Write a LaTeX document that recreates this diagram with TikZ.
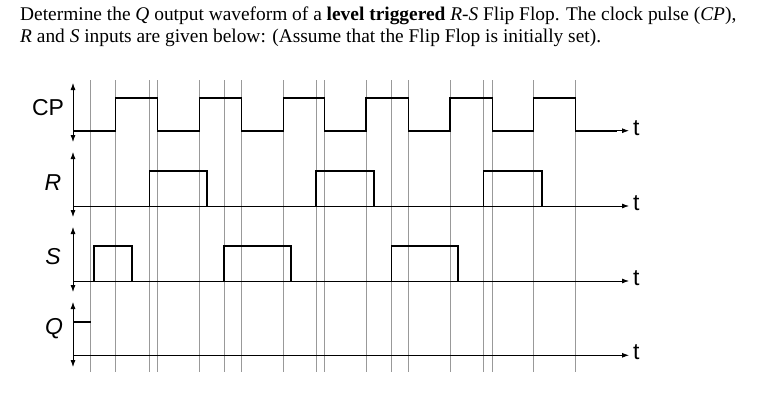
\documentclass[tikz,border=0pt]{standalone}
\usepackage{fontspec}
\setmainfont{Liberation Serif}
\newfontfamily\arial{Liberation Sans}
\usetikzlibrary{arrows.meta}
\begin{document}
\begin{tikzpicture}[x=1pt,y=-1pt,
  wave/.style={line width=1.6pt,line join=miter},
  axis/.style={line width=0.8pt,{Latex[length=7pt,width=5pt]}-{Latex[length=7pt,width=5pt]}},
  taxis/.style={line width=0.8pt,-{Latex[length=7pt,width=5pt]}},
  grid/.style={gray!80,line width=0.5pt},
  lab/.style={font=\arial\fontsize{23}{25}\selectfont,anchor=center}]
\useasboundingbox (0,0) rectangle (762,407);
\node[anchor=north west,align=left,inner sep=0pt,font=\fontsize{19.4}{22}\selectfont] (hdr) at (20,7)
 {Determine the \textit{Q} output waveform of a \textbf{level triggered} \textit{R-S} Flip Flop. The clock pulse (\textit{CP}),\\
 \textit{R} and \textit{S} inputs are given below: (Assume that the Flip Flop is initially set).};
\foreach \x in {90.7,115.3,149.3,157.3,199.3,224.7,241.3,283.3,316.7,324.3,366,391.3,408.3,450,483.3,492.3,533.3,575.3}
  \draw[grid] (\x,80) -- (\x,372);
% axes
\draw[axis] (73,83) -- (73,142);
\draw[axis] (73,152) -- (73,217);
\draw[axis] (73,227) -- (73,292);
\draw[axis] (73,302) -- (73,367);
\coordinate (c0) at (73,130.7); \coordinate (c1) at (629,130.7);
\coordinate (r0) at (73,206); \coordinate (r1) at (629,206);
\coordinate (s0) at (73,281); \coordinate (s1) at (629,281);
\coordinate (q0) at (73,355.3); \coordinate (q1) at (629,355.3);
\draw[taxis] (r0) -- (r1);
\draw[taxis] (s0) -- (s1);
\draw[taxis] (q0) -- (q1);
\draw[taxis] (617,130.7) -- (c1);
% CP
\draw[wave] (73,130.7) -- (115.3,130.7) -- (115.3,97.7) -- (157.3,97.7) -- (157.3,130.7)
 -- (199.3,130.7) -- (199.3,97.7) -- (241.3,97.7) -- (241.3,130.7)
 -- (283.3,130.7) -- (283.3,97.7) -- (324.3,97.7) -- (324.3,130.7)
 -- (366,130.7) -- (366,97.7) -- (408.3,97.7) -- (408.3,130.7)
 -- (450,130.7) -- (450,97.7) -- (492.3,97.7) -- (492.3,130.7)
 -- (533.3,130.7) -- (533.3,97.7) -- (575.3,97.7) -- (575.3,130.7) -- (617,130.7);
% R
\foreach \a/\b in {149.3/207,316/374,483.3/542}
  \draw[wave] (\a,206) -- (\a,171) -- (\b,171) -- (\b,206);
% S
\foreach \a/\b in {94/132,223.7/291,391.3/458}
  \draw[wave] (\a,281) -- (\a,246) -- (\b,246) -- (\b,281);
% Q
\draw[wave] (73,321.7) -- (90.7,321.7);
% labels
\node[lab] (lcp) at (48,108) {CP};
\node[lab] (lr) at (53,183) {\itshape R};
\node[lab] (ls) at (53,257) {\itshape S};
\node[lab] (lq) at (54,329) {\itshape Q};
\foreach \y/\n in {130.7/t1,206/t2,281/t3,355.3/t4}
  \node[lab,anchor=west,inner sep=0pt] (\n) at (633,\y-3) {t};
\end{tikzpicture}
\end{document}
